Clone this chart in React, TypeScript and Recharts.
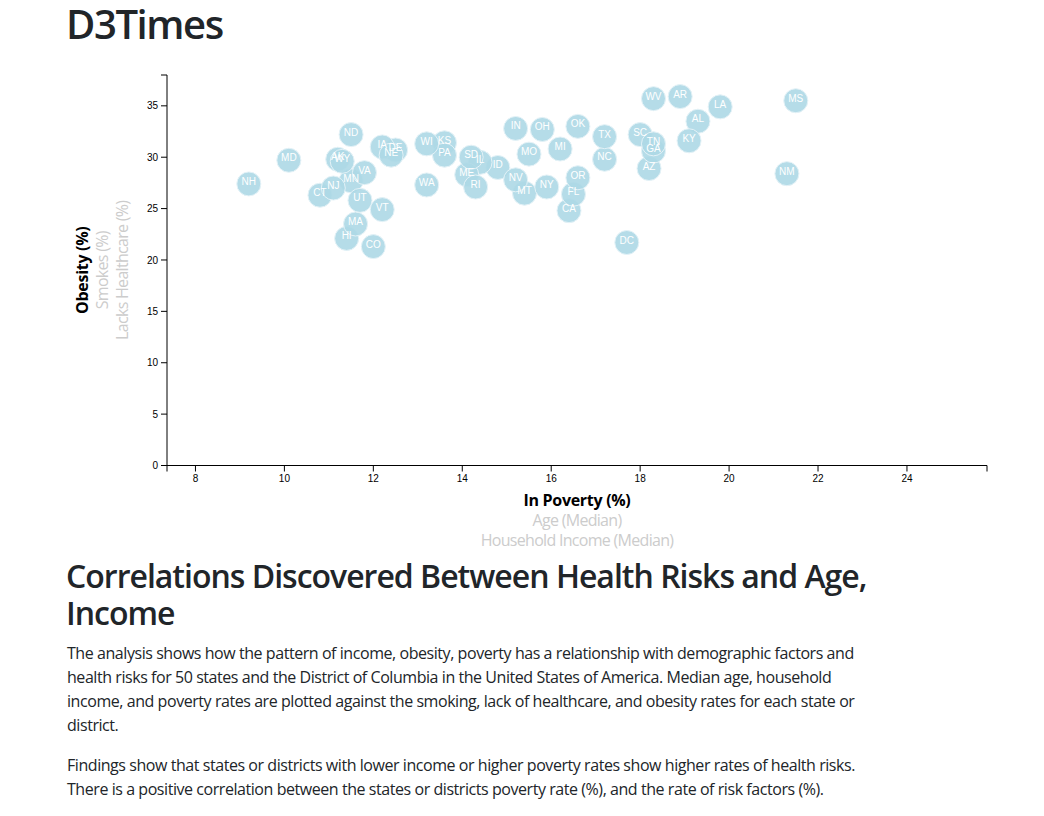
import { ScatterChart, Scatter, XAxis, YAxis, Label } from "recharts";

const abbrs = [
  "AL", "AK", "AZ", "AR", "CA", "CO", "CT", "DE", "DC", "FL", "GA", "HI", "ID",
  "IL", "IN", "IA", "KS", "KY", "LA", "ME", "MD", "MA", "MI", "MN", "MS", "MO",
  "MT", "NE", "NV", "NH", "NJ", "NM", "NY", "NC", "ND", "OH", "OK", "OR", "PA",
  "RI", "SC", "SD", "TN", "TX", "UT", "VT", "VA", "WA", "WV", "WI", "WY",
];

const poverty = [
  19.3, 11.2, 18.2, 18.9, 16.4, 12.0, 10.8, 12.5, 17.7, 16.5, 18.3, 11.4, 14.8,
  14.4, 15.2, 12.2, 13.6, 19.1, 19.8, 14.1, 10.1, 11.6, 16.2, 11.5, 21.5, 15.5,
  15.4, 12.4, 15.2, 9.2, 11.1, 21.3, 15.9, 17.2, 11.5, 15.8, 16.6, 16.6, 13.6,
  14.3, 18.0, 14.2, 18.3, 17.2, 11.7, 12.2, 11.8, 13.2, 18.3, 13.2, 11.3,
];

const obesity = [
  33.5, 29.8, 28.9, 35.9, 24.8, 21.3, 26.3, 30.7, 21.7, 26.4, 30.6, 22.1, 29.0,
  29.5, 32.8, 31.0, 31.4, 31.6, 34.9, 28.3, 29.7, 23.5, 30.8, 27.7, 35.5, 30.3,
  26.5, 30.2, 27.8, 27.4, 27.0, 28.4, 27.1, 29.8, 32.2, 32.7, 33.0, 28.0, 30.2,
  27.1, 32.2, 30.0, 31.3, 32.0, 25.8, 24.9, 28.5, 27.3, 35.7, 31.3, 29.6,
];

const xTicks = [8, 10, 12, 14, 16, 18, 20, 22, 24];
const yTicks = [0, 5, 10, 15, 20, 25, 30, 35];
const xLabels = ["In Poverty (%)", "Age (Median)", "Household Income (Median)"];
const yLabels = ["Obesity (%)", "Smokes (%)", "Lacks Healthcare (%)"];

const data = abbrs.map((abbr, i) => ({ abbr, poverty: poverty[i], obesity: obesity[i] }));

const FONT = "'Open Sans', 'Noto Sans', sans-serif";
const TICK_FONT = "'Liberation Sans', Arial, sans-serif";

const circleShape = (props: any) => (
  <circle
    cx={props.cx}
    cy={props.cy}
    r={12}
    fill="#ADD8E6"
    fillOpacity={0.9}
    stroke="#e4f2f7"
    strokeWidth={1}
  />
);

const textShape = (props: any) => (
  <text
    x={props.cx}
    y={props.cy + 1}
    textAnchor="middle"
    fill="#fff"
    fontSize={10}
    fontFamily={TICK_FONT}
  >
    {props.payload.abbr}
  </text>
);

const xLabelContent = (props: any) => {
  const vb = props.viewBox || { x: 167, y: 405.5, width: 820, height: 30 };
  const cx = vb.x + vb.width / 2;
  return (
    <g>
      <path
        d={`M${vb.x},${vb.y + 6}V${vb.y}H${vb.x + vb.width}V${vb.y + 6}`}
        stroke="#000"
        fill="none"
      />
      {xLabels.map((t, i) => (
        <text
          key={t}
          x={cx}
          y={vb.y + 40 + i * 20}
          textAnchor="middle"
          fontFamily={FONT}
          fontSize={16}
          fontWeight={i === 0 ? 700 : 400}
          letterSpacing={i === 0 ? -0.3 : -0.7}
          fill={i === 0 ? "#000" : "#ccc"}
        >
          {t}
        </text>
      ))}
    </g>
  );
};

const yLabelContent = (props: any) => {
  const vb = props.viewBox || { x: 127, y: 15, width: 40, height: 390.5 };
  const cy = vb.y + vb.height / 2;
  const ax = vb.x + vb.width;
  return (
    <g>
      <path
        d={`M${ax - 6},${vb.y}H${ax}V${vb.y + vb.height}H${ax - 6}`}
        stroke="#000"
        fill="none"
      />
      {yLabels.map((t, i) => {
        const x = vb.x - 39 + i * 20;
        return (
          <text
            key={t}
            x={x}
            y={cy}
            transform={`rotate(-90 ${x} ${cy})`}
            textAnchor="middle"
            fontFamily={FONT}
            fontSize={16}
            fontWeight={i === 0 ? 700 : 400}
            letterSpacing={i === 0 ? -0.3 : -0.7}
            fill={i === 0 ? "#000" : "#ccc"}
          >
            {t}
          </text>
        );
      })}
    </g>
  );
};

const para1 = [
  "The analysis shows how the pattern of income, obesity, poverty has a relationship with demographic factors and",
  "health risks for 50 states and the District of Columbia in the United States of America. Median age, household",
  "income, and poverty rates are plotted against the smoking, lack of healthcare, and obesity rates for each state or",
  "district.",
];
const para2 = [
  "Findings show that states or districts with lower income or higher poverty rates show higher rates of health risks.",
  "There is a positive correlation between the states or districts poverty rate (%), and the rate of risk factors (%).",
];

const pStyle = {
  position: "absolute" as const,
  left: 59,
  margin: 0,
  fontSize: 16,
  lineHeight: "24px",
  letterSpacing: "-0.44px",
  whiteSpace: "nowrap" as const,
};

export default function App() {
  return (
    <div style={{ position: "relative", width: 1028, height: 800, fontFamily: FONT, color: "#212529" }}>
      <h1
        style={{
          position: "absolute", left: 58, top: -4, margin: 0,
          fontSize: 40, lineHeight: "40px", fontWeight: 600, letterSpacing: "-1.4px",
        }}
      >
        D3Times
      </h1>
      <div style={{ position: "absolute", left: -8, top: 52 }}>
        <ScatterChart width={1044} height={500} margin={{ top: 15, right: 57, left: 127, bottom: 64.5 }}>
          <XAxis
            type="number"
            dataKey="poverty"
            domain={[7.36, 25.8]}
            ticks={xTicks}
            allowDataOverflow
            height={30}
            axisLine={false}
            tickLine={{ stroke: "#000" }}
            tickSize={6}
            tickMargin={3}
            tick={{ fontSize: 10, fill: "#000", fontFamily: TICK_FONT }}
          >
            <Label content={xLabelContent} />
          </XAxis>
          <YAxis
            type="number"
            dataKey="obesity"
            domain={[0, 38]}
            ticks={yTicks}
            allowDataOverflow
            width={40}
            axisLine={false}
            tickLine={{ stroke: "#000" }}
            tickSize={6}
            tickMargin={3}
            tick={{ fontSize: 10, fill: "#000", fontFamily: TICK_FONT }}
          >
            <Label content={yLabelContent} />
          </YAxis>
          <Scatter data={data} shape={circleShape} isAnimationActive={false} />
          <Scatter data={data} shape={textShape} isAnimationActive={false} />
        </ScatterChart>
      </div>
      <h2
        style={{
          position: "absolute", left: 58, top: 549, margin: 0, width: 840,
          fontSize: 32, lineHeight: "37px", fontWeight: 600, letterSpacing: "-1px",
        }}
      >
        Correlations Discovered Between Health Risks and Age, Income
      </h2>
      <p style={{ ...pStyle, top: 633 }}>
        {para1.map((l, i) => (
          <span key={i}>
            {l}
            {i < para1.length - 1 && <br />}
          </span>
        ))}
      </p>
      <p style={{ ...pStyle, top: 745 }}>
        {para2.map((l, i) => (
          <span key={i}>
            {l}
            {i < para2.length - 1 && <br />}
          </span>
        ))}
      </p>
    </div>
  );
}
